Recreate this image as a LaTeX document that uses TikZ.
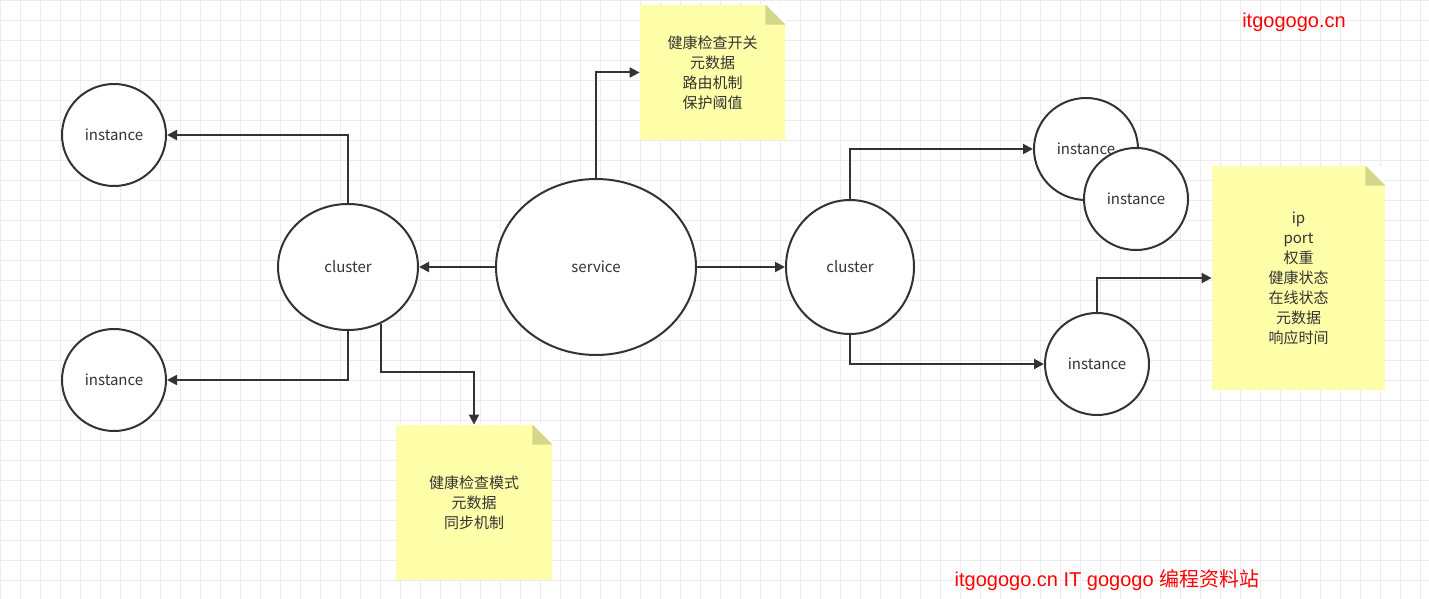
\documentclass[tikz,border=0pt]{standalone}
\usepackage{fontspec}
\setmainfont{Noto Sans CJK SC}
\newfontfamily\arialish{Liberation Sans}
\usetikzlibrary{positioning,shapes.geometric,arrows.meta}
\definecolor{notefill}{HTML}{FFFFAA}
\definecolor{notefold}{HTML}{D6D68A}
\definecolor{gridline}{HTML}{ECECEC}
\definecolor{stroke}{HTML}{333333}
\tikzset{
  blob/.style={ellipse, draw=stroke, line width=1pt, fill=white, inner sep=0pt,
    font=\fontsize{7.5}{9}\selectfont, text=stroke},
  note/.style={rectangle, fill=notefill, inner sep=0pt, align=center,
    font=\fontsize{7.5}{10}\selectfont, text=stroke},
  link/.style={draw=stroke, line width=1pt, -{Triangle[length=5pt,width=5pt]}},
  redmark/.style={text=red, font=\fontsize{10}{12}\selectfont}
}
\begin{document}
\begin{tikzpicture}[x=0.5pt, y=-0.5pt]
\useasboundingbox (0,0) rectangle (1429,599);
\fill[white] (0,0) rectangle (1429,599);
\foreach \gx in {0,20,...,1420} \draw[gridline, line width=0.4pt] (\gx,0) -- (\gx,599);
\foreach \gy in {0,20,...,580} \draw[gridline, line width=0.4pt] (0,\gy) -- (1429,\gy);

% Nodes
\node (il1) [blob, minimum width=52pt, minimum height=51pt] at (114,135) {instance};
\node (il2) [blob, minimum width=52pt, minimum height=51pt] at (114,380) {instance};
\node (cl) [blob, minimum width=70pt, minimum height=63pt] at (348,267) {cluster};
\node (sv) [blob, minimum width=100pt, minimum height=88pt] at (596,267) {service};
\node (cr) [blob, minimum width=64pt, minimum height=67pt] at (850,267) {cluster};
\node (ir1) [blob, minimum width=52pt, minimum height=51pt] at (1086,149) {instance};
\node (ir2) [blob, minimum width=52pt, minimum height=51pt] at (1136,199) {instance};
\node (ir3) [blob, minimum width=52pt, minimum height=51pt] at (1097,364) {instance};

% Notes
\node (n1) [note, minimum width=72.5pt, minimum height=67.5pt] at (712.5,72.5)
    {健康检查开关\\元数据\\路由机制\\保护阈值};
\node (n2) [note, minimum width=78pt, minimum height=77.5pt] at (474,502.5)
    {健康检查模式\\元数据\\同步机制};
\node (n3) [note, minimum width=86.5pt, minimum height=112pt] at (1298.5,278)
    {ip\\port\\权重\\健康状态\\在线状态\\元数据\\响应时间};
\foreach \n in {n1,n2,n3}{
  \fill[white] (\n.north east) -- ++(-20,0) -- ++(20,20) -- cycle;
  \fill[notefold] (\n.north east) ++(-20,0) -- ++(20,20) -- ++(-20,0) -- cycle;
}

% Arrows
\coordinate (bend) at (0,372);
\draw[link] (cl.north) |- (il1.east);
\draw[link] (cl.south) |- (il2.east);
\draw[link] (cl.-60) -- (cl.-60 |- bend) -| (n2.north);
\draw[link] (sv.west) -- (cl.east);
\draw[link] (sv.north) |- (n1.west);
\draw[link] (sv.east) -- (cr.west);
\draw[link] (cr.north) |- (ir1.west);
\draw[link] (cr.south) |- (ir3.west);
\draw[link] (ir3.north) |- (n3.west);

% Labels
\node (m1) [redmark] at (1294,22) {\arialish itgogogo.cn};
\node (m2) [redmark] at (1107,580) {\arialish itgogogo.cn IT gogogo \rmfamily 编程资料站};
\end{tikzpicture}
\end{document}
